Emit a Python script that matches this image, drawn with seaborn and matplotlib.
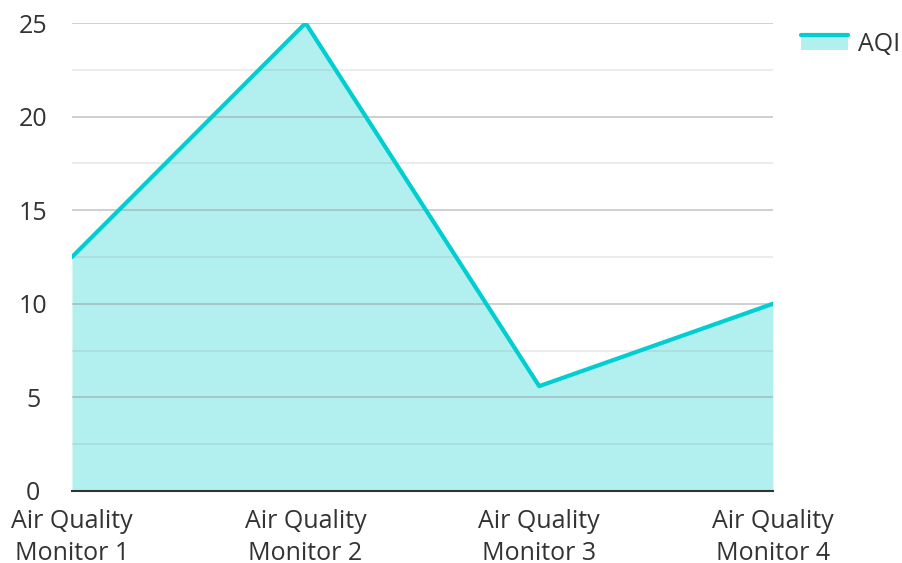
import pandas as pd
import seaborn as sns
import matplotlib.pyplot as plt
from matplotlib.patches import Rectangle
from matplotlib.lines import Line2D
from matplotlib.legend_handler import HandlerBase

monitors = ['Air Quality\nMonitor 1', 'Air Quality\nMonitor 2', 'Air Quality\nMonitor 3', 'Air Quality\nMonitor 4']
aqi = [12.5, 25, 5.6, 10]

df = pd.DataFrame({'monitor': monitors, 'aqi': aqi})
df['pos'] = range(len(df))

sns.set_style('white')
plt.rcParams['font.family'] = ['Open Sans', 'DejaVu Sans']

line_col = '#00CED1'
fill_col = '#B2EFEF'
text_col = '#333333'


class AreaHandler(HandlerBase):
    # patch with the line drawn along its top edge
    def create_artists(self, legend, orig_handle, xdescent, ydescent, width, height, fontsize, trans):
        top = height * 0.95
        r = Rectangle((-xdescent, -ydescent), width, top, facecolor=fill_col, edgecolor='none', transform=trans)
        l = Line2D([-xdescent, -xdescent + width], [top - ydescent] * 2, color=line_col, lw=3, transform=trans)
        return [r, l]


fig = plt.figure(figsize=(9.02, 5.63), dpi=100)
ax = fig.add_axes([0.0798, 0.128, 0.777, 0.831])

ax.fill_between(df['pos'], df['aqi'], 0, color=fill_col, lw=0, zorder=1)
sns.lineplot(data=df, x='pos', y='aqi', color=line_col, lw=3, ax=ax, zorder=3)

ax.set_xlim(0, 3)
ax.set_ylim(0, 25)
ax.set_yticks([0, 5, 10, 15, 20, 25])
ax.set_yticks([2.5, 7.5, 12.5, 17.5, 22.5], minor=True)
ax.set_xticks(df['pos'])
ax.set_xticklabels(df['monitor'], linespacing=1.35)
ax.grid(True, which='major', axis='y', color='#9a9a9a', alpha=0.55, lw=1.2, zorder=2)
ax.grid(True, which='minor', axis='y', color='#9a9a9a', alpha=0.22, lw=1.2, zorder=2)
ax.set_axisbelow(False)
ax.tick_params(axis='both', which='both', length=0, labelsize=18, labelcolor=text_col)
ax.tick_params(axis='x', pad=13)
ax.tick_params(axis='y', pad=28)
for lab in ax.get_yticklabels():
    lab.set_horizontalalignment('center')
ax.set_xlabel('')
ax.set_ylabel('')
for s in ['top', 'right', 'left']:
    ax.spines[s].set_visible(False)
ax.spines['bottom'].set_color(text_col)
ax.spines['bottom'].set_linewidth(1.5)
ax.spines['bottom'].set_zorder(4)

ax.legend([object()], ['AQI'], handler_map={object: AreaHandler()},
          loc='upper left', bbox_to_anchor=(1.008, 1.03), frameon=False,
          fontsize=18, labelcolor=text_col, handlelength=1.9, handleheight=0.6, handletextpad=0.4)

fig.savefig('out.png', dpi=100)
